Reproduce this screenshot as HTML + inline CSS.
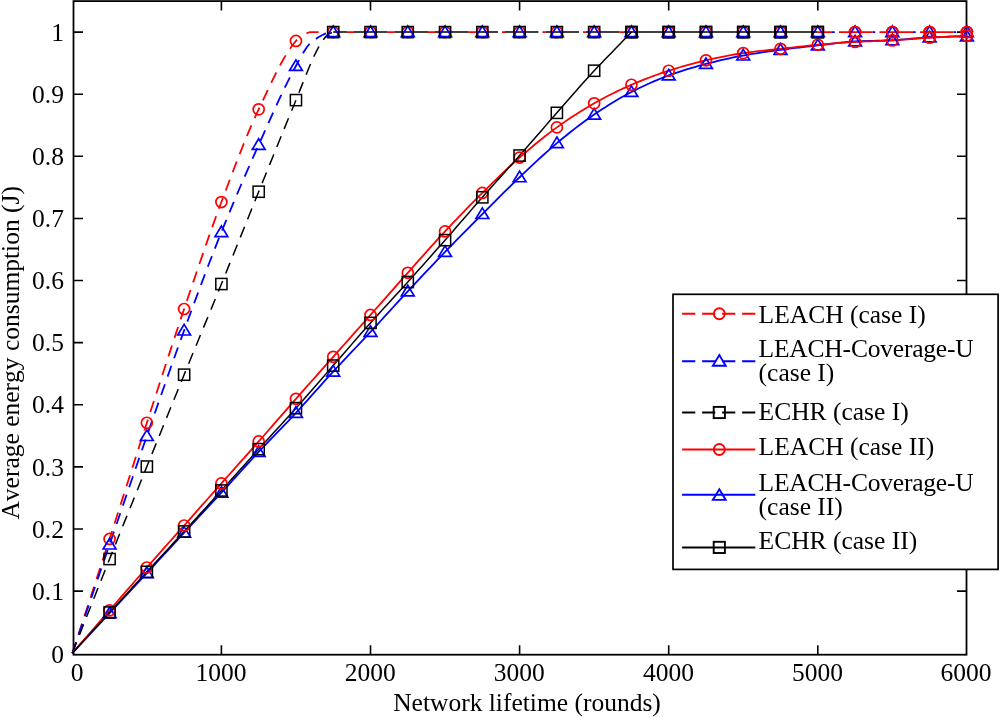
<!DOCTYPE html>
<html lang="en"><head><meta charset="utf-8"><title>Average energy consumption vs network lifetime</title>
<style>html,body{margin:0;padding:0;background:#fff}body{width:1000px;height:718px;overflow:hidden}svg{display:block}</style>
</head><body>
<svg width="1000" height="718" viewBox="0 0 1000 718">
<rect width="1000" height="718" fill="#fff"/>
<g stroke="#000" stroke-width="1.8" fill="none">
<rect x="73.5" y="1.1" width="893.0" height="653.6"/>
<path stroke-width="1.6" d="M221.4 654.7v-9.5M221.4 1.1v9.5M370.5 654.7v-9.5M370.5 1.1v9.5M519.6 654.7v-9.5M519.6 1.1v9.5M668.7 654.7v-9.5M668.7 1.1v9.5M817.8 654.7v-9.5M817.8 1.1v9.5M73.5 591.09h9.5M966.5 591.09h-9.5M73.5 528.98h9.5M966.5 528.98h-9.5M73.5 466.87h9.5M966.5 466.87h-9.5M73.5 404.76h9.5M966.5 404.76h-9.5M73.5 342.65h9.5M966.5 342.65h-9.5M73.5 280.54h9.5M966.5 280.54h-9.5M73.5 218.43h9.5M966.5 218.43h-9.5M73.5 156.32h9.5M966.5 156.32h-9.5M73.5 94.21h9.5M966.5 94.21h-9.5M73.5 32.1h9.5M966.5 32.1h-9.5"/>
</g>
<g>
<polyline points="72.3,653.2 76.03,641.86 79.75,630.49 83.48,619.11 87.21,607.71 90.94,596.29 94.66,584.85 98.39,573.4 102.12,561.92 105.85,550.43 109.58,538.92 113.3,527.37 117.03,515.77 120.76,504.14 124.48,492.48 128.21,480.81 131.94,469.15 135.67,457.5 139.39,445.88 143.12,434.3 146.85,422.77 150.58,411.27 154.31,399.75 158.03,388.24 161.76,376.75 165.49,365.29 169.22,353.88 172.94,342.53 176.67,331.26 180.4,320.07 184.12,308.99 187.85,297.95 191.58,286.93 195.31,275.93 199.04,264.99 202.76,254.14 206.49,243.39 210.22,232.79 213.94,222.34 217.67,212.08 221.4,202.03 225.13,192.1 228.86,182.2 232.58,172.38 236.31,162.67 240.04,153.13 243.76,143.79 247.49,134.7 251.22,125.9 254.95,117.44 258.68,109.36 262.4,101.45 266.13,93.51 269.86,85.64 273.59,77.95 277.31,70.53 281.04,63.47 284.77,56.89 288.5,50.87 292.22,45.51 295.95,40.92 299.68,37.18" fill="none" stroke="#ff0000" stroke-width="1.8" stroke-linejoin="round" stroke-dasharray="11.5 8"/>
<polyline points="306.54,33.29 307.63,32.88 308.73,32.49 309.83,32.2 310.93,32.1 312.03,32.1 313.12,32.1 314.22,32.1 315.32,32.1 316.42,32.1 317.52,32.1 318.61,32.1" fill="none" stroke="#ff0000" stroke-width="1.8"/>
<polyline points="72.3,653.2 76.03,642.32 79.75,631.45 83.48,620.57 87.21,609.7 90.94,598.83 94.66,587.96 98.39,577.1 102.12,566.23 105.85,555.37 109.58,544.51 113.3,533.64 117.03,522.75 120.76,511.85 124.48,500.95 128.21,490.05 131.94,479.18 135.67,468.33 139.39,457.51 143.12,446.73 146.85,436 150.58,425.3 154.31,414.59 158.03,403.89 161.76,393.22 165.49,382.59 169.22,372.01 172.94,361.5 176.67,351.06 180.4,340.72 184.12,330.48 187.85,320.31 191.58,310.17 195.31,300.08 199.04,290.06 202.76,280.12 206.49,270.27 210.22,260.53 213.94,250.91 217.67,241.42 221.4,232.09 225.13,222.9 228.86,213.83 232.58,204.87 236.31,196.01 240.04,187.26 243.76,178.6 247.49,170.03 251.22,161.55 254.95,153.15 258.68,144.83 262.4,136.51 266.13,128.17 269.86,119.84 273.59,111.58 277.31,103.43 281.04,95.43 284.77,87.64 288.5,80.1 292.22,72.85 295.95,65.95 299.68,59.09 303.41,52.42 307.13,46.71 309.52,43.9 310.86,42.64 314.59,39.8 316.82,38.31 318.31,37.34 322.04,35.21 325.77,33.41 328.01,32.72 329.5,32.46 333.23,32.1" fill="none" stroke="#0000ff" stroke-width="1.8" stroke-linejoin="round" stroke-dasharray="11.5 8"/>
<polyline points="72.3,653.2 76.03,643.71 79.75,634.23 83.48,624.78 87.21,615.33 90.94,605.91 94.66,596.5 98.39,587.11 102.12,577.74 105.85,568.38 109.58,559.04 113.3,549.72 117.03,540.43 120.76,531.15 124.48,521.9 128.21,512.66 131.94,503.43 135.67,494.21 139.39,484.99 143.12,475.77 146.85,466.56 150.58,457.34 154.31,448.13 158.03,438.92 161.76,429.71 165.49,420.52 169.22,411.33 172.94,402.15 176.67,392.98 180.4,383.83 184.12,374.7 187.85,365.59 191.58,356.51 195.31,347.46 199.04,338.42 202.76,329.39 206.49,320.35 210.22,311.3 213.94,302.24 217.67,293.15 221.4,284.02 225.13,274.85 228.86,265.65 232.58,256.43 236.31,247.18 240.04,237.93 243.76,228.67 247.49,219.41 251.22,210.16 254.95,200.93 258.68,191.72 262.4,182.52 266.13,173.32 269.86,164.11 273.59,154.91 277.31,145.71 281.04,136.54 284.77,127.38 288.5,118.26 292.22,109.16 295.95,100.11 299.68,90.88 303.41,81.47 307.13,72.16 310.86,63.25 314.59,55.03 315.78,52.6 318.31,47.67 322.04,41.42 325.77,36.43 327.11,35.21 329.5,33.51 333.23,32.1" fill="none" stroke="#000000" stroke-width="1.5" stroke-linejoin="round" stroke-dasharray="11.5 8"/>
<path d="M832 32.1H834.7M872.5 32.1H875.2M913 32.1H915.7M953.5 32.1H956.2" fill="none" stroke="#0000ff" stroke-width="1.8"/>
<path d="M347 32.1H354M387.5 32.1H394.5M428 32.1H435M468.5 32.1H475.5M502 32.1H505M542.4 32.1H545.4M583 32.1H586M619.5 32.1H624M817.8 32.1H832M839 32.1H872.5M879.5 32.1H913M920 32.1H953.5M960.5 32.1H966.9" fill="none" stroke="#ff0000" stroke-width="1.8"/>
<path d="M333.23 32.1H347M354 32.1H387.5M394.5 32.1H428M435 32.1H468.5M475.5 32.1H498M505 32.1H538.4M545.4 32.1H579M586 32.1H619.5M624 32.1H631.42" fill="none" stroke="#000000" stroke-width="1.5"/>
<circle cx="109.58" cy="538.92" r="5.5" fill="none" stroke="#ff0000" stroke-width="1.7"/><circle cx="146.85" cy="422.77" r="5.5" fill="none" stroke="#ff0000" stroke-width="1.7"/><circle cx="184.12" cy="308.99" r="5.5" fill="none" stroke="#ff0000" stroke-width="1.7"/><circle cx="221.4" cy="202.03" r="5.5" fill="none" stroke="#ff0000" stroke-width="1.7"/><circle cx="258.68" cy="109.36" r="5.5" fill="none" stroke="#ff0000" stroke-width="1.7"/><circle cx="295.95" cy="40.92" r="5.5" fill="none" stroke="#ff0000" stroke-width="1.7"/><circle cx="333.23" cy="32.1" r="5.5" fill="none" stroke="#ff0000" stroke-width="1.7"/><circle cx="370.5" cy="32.1" r="5.5" fill="none" stroke="#ff0000" stroke-width="1.7"/><circle cx="407.78" cy="32.1" r="5.5" fill="none" stroke="#ff0000" stroke-width="1.7"/><circle cx="445.05" cy="32.1" r="5.5" fill="none" stroke="#ff0000" stroke-width="1.7"/><circle cx="482.33" cy="32.1" r="5.5" fill="none" stroke="#ff0000" stroke-width="1.7"/><circle cx="519.6" cy="32.1" r="5.5" fill="none" stroke="#ff0000" stroke-width="1.7"/><circle cx="556.88" cy="32.1" r="5.5" fill="none" stroke="#ff0000" stroke-width="1.7"/><circle cx="594.15" cy="32.1" r="5.5" fill="none" stroke="#ff0000" stroke-width="1.7"/><circle cx="631.42" cy="32.1" r="5.5" fill="none" stroke="#ff0000" stroke-width="1.7"/><circle cx="668.7" cy="32.1" r="5.5" fill="none" stroke="#ff0000" stroke-width="1.7"/><circle cx="705.98" cy="32.1" r="5.5" fill="none" stroke="#ff0000" stroke-width="1.7"/><circle cx="743.25" cy="32.1" r="5.5" fill="none" stroke="#ff0000" stroke-width="1.7"/><circle cx="780.52" cy="32.1" r="5.5" fill="none" stroke="#ff0000" stroke-width="1.7"/><circle cx="817.8" cy="32.1" r="5.5" fill="none" stroke="#ff0000" stroke-width="1.7"/><circle cx="855.08" cy="32.1" r="5.5" fill="none" stroke="#ff0000" stroke-width="1.7"/><circle cx="892.35" cy="32.1" r="5.5" fill="none" stroke="#ff0000" stroke-width="1.7"/><circle cx="929.62" cy="32.1" r="5.5" fill="none" stroke="#ff0000" stroke-width="1.7"/><circle cx="966.9" cy="32.1" r="5.5" fill="none" stroke="#ff0000" stroke-width="1.7"/>
<path d="M109.58 538.41L115.98 549.01L103.17 549.01Z" fill="none" stroke="#0000ff" stroke-width="1.7"/><path d="M146.85 429.9L153.25 440.5L140.45 440.5Z" fill="none" stroke="#0000ff" stroke-width="1.7"/><path d="M184.12 324.38L190.53 334.98L177.72 334.98Z" fill="none" stroke="#0000ff" stroke-width="1.7"/><path d="M221.4 225.99L227.8 236.59L215 236.59Z" fill="none" stroke="#0000ff" stroke-width="1.7"/><path d="M258.68 138.73L265.07 149.33L252.28 149.33Z" fill="none" stroke="#0000ff" stroke-width="1.7"/><path d="M295.95 59.85L302.35 70.45L289.55 70.45Z" fill="none" stroke="#0000ff" stroke-width="1.7"/><path d="M333.23 26L339.62 36.6L326.83 36.6Z" fill="none" stroke="#0000ff" stroke-width="1.7"/><path d="M370.5 26L376.9 36.6L364.1 36.6Z" fill="none" stroke="#0000ff" stroke-width="1.7"/><path d="M407.78 26L414.18 36.6L401.38 36.6Z" fill="none" stroke="#0000ff" stroke-width="1.7"/><path d="M445.05 26L451.45 36.6L438.65 36.6Z" fill="none" stroke="#0000ff" stroke-width="1.7"/><path d="M482.33 26L488.73 36.6L475.93 36.6Z" fill="none" stroke="#0000ff" stroke-width="1.7"/><path d="M519.6 26L526 36.6L513.2 36.6Z" fill="none" stroke="#0000ff" stroke-width="1.7"/><path d="M556.88 26L563.27 36.6L550.48 36.6Z" fill="none" stroke="#0000ff" stroke-width="1.7"/><path d="M594.15 26L600.55 36.6L587.75 36.6Z" fill="none" stroke="#0000ff" stroke-width="1.7"/><path d="M631.42 26L637.82 36.6L625.02 36.6Z" fill="none" stroke="#0000ff" stroke-width="1.7"/><path d="M668.7 26L675.1 36.6L662.3 36.6Z" fill="none" stroke="#0000ff" stroke-width="1.7"/><path d="M705.98 26L712.38 36.6L699.58 36.6Z" fill="none" stroke="#0000ff" stroke-width="1.7"/><path d="M743.25 26L749.65 36.6L736.85 36.6Z" fill="none" stroke="#0000ff" stroke-width="1.7"/><path d="M780.52 26L786.92 36.6L774.12 36.6Z" fill="none" stroke="#0000ff" stroke-width="1.7"/><path d="M817.8 26L824.2 36.6L811.4 36.6Z" fill="none" stroke="#0000ff" stroke-width="1.7"/><path d="M855.08 26L861.48 36.6L848.68 36.6Z" fill="none" stroke="#0000ff" stroke-width="1.7"/><path d="M892.35 26L898.75 36.6L885.95 36.6Z" fill="none" stroke="#0000ff" stroke-width="1.7"/><path d="M929.62 26L936.02 36.6L923.23 36.6Z" fill="none" stroke="#0000ff" stroke-width="1.7"/><path d="M966.9 26L973.3 36.6L960.5 36.6Z" fill="none" stroke="#0000ff" stroke-width="1.7"/>
<rect x="103.98" y="553.44" width="11.2" height="11.2" fill="none" stroke="#000000" stroke-width="1.5"/><rect x="141.25" y="460.96" width="11.2" height="11.2" fill="none" stroke="#000000" stroke-width="1.5"/><rect x="178.53" y="369.1" width="11.2" height="11.2" fill="none" stroke="#000000" stroke-width="1.5"/><rect x="215.8" y="278.42" width="11.2" height="11.2" fill="none" stroke="#000000" stroke-width="1.5"/><rect x="253.08" y="186.12" width="11.2" height="11.2" fill="none" stroke="#000000" stroke-width="1.5"/><rect x="290.35" y="94.51" width="11.2" height="11.2" fill="none" stroke="#000000" stroke-width="1.5"/><rect x="327.62" y="26.5" width="11.2" height="11.2" fill="none" stroke="#000000" stroke-width="1.5"/><rect x="364.9" y="26.5" width="11.2" height="11.2" fill="none" stroke="#000000" stroke-width="1.5"/><rect x="402.18" y="26.5" width="11.2" height="11.2" fill="none" stroke="#000000" stroke-width="1.5"/><rect x="439.45" y="26.5" width="11.2" height="11.2" fill="none" stroke="#000000" stroke-width="1.5"/><rect x="476.73" y="26.5" width="11.2" height="11.2" fill="none" stroke="#000000" stroke-width="1.5"/><rect x="514" y="26.5" width="11.2" height="11.2" fill="none" stroke="#000000" stroke-width="1.5"/><rect x="551.27" y="26.5" width="11.2" height="11.2" fill="none" stroke="#000000" stroke-width="1.5"/><rect x="588.55" y="26.5" width="11.2" height="11.2" fill="none" stroke="#000000" stroke-width="1.5"/><rect x="625.82" y="26.5" width="11.2" height="11.2" fill="none" stroke="#000000" stroke-width="1.5"/><rect x="663.1" y="26.5" width="11.2" height="11.2" fill="none" stroke="#000000" stroke-width="1.5"/><rect x="700.38" y="26.5" width="11.2" height="11.2" fill="none" stroke="#000000" stroke-width="1.5"/><rect x="737.65" y="26.5" width="11.2" height="11.2" fill="none" stroke="#000000" stroke-width="1.5"/><rect x="774.92" y="26.5" width="11.2" height="11.2" fill="none" stroke="#000000" stroke-width="1.5"/><rect x="812.2" y="26.5" width="11.2" height="11.2" fill="none" stroke="#000000" stroke-width="1.5"/>
<polyline points="72.3,653.2 76.03,649.19 79.75,645.19 83.48,641.18 87.21,637.18 90.94,633.17 94.66,629.16 98.39,625.16 102.12,621.15 105.85,617.15 109.58,613.14 113.3,609.13 117.03,605.13 120.76,601.13 124.48,597.13 128.21,593.13 131.94,589.12 135.67,585.12 139.39,581.11 143.12,577.1 146.85,573.08 150.58,569.05 154.31,565.02 158.03,560.98 161.76,556.94 165.49,552.89 169.22,548.85 172.94,544.8 176.67,540.77 180.4,536.73 184.12,532.71 187.85,528.69 191.58,524.68 195.31,520.68 199.04,516.69 202.76,512.7 206.49,508.7 210.22,504.7 213.94,500.69 217.67,496.68 221.4,492.65 225.13,488.6 228.86,484.52 232.58,480.44 236.31,476.34 240.04,472.24 243.76,468.15 247.49,464.07 251.22,460.01 254.95,455.97 258.68,451.96 262.4,448 266.13,444.07 269.86,440.18 273.59,436.3 277.31,432.44 281.04,428.57 284.77,424.68 288.5,420.77 292.22,416.83 295.95,412.83 299.68,408.79 303.41,404.69 307.13,400.55 310.86,396.39 314.59,392.22 318.31,388.04 322.04,383.87 325.77,379.72 329.5,375.6 333.23,371.53 336.95,367.51 340.68,363.52 344.41,359.55 348.14,355.61 351.86,351.68 355.59,347.75 359.32,343.81 363.05,339.87 366.77,335.9 370.5,331.9 374.23,327.88 377.96,323.82 381.68,319.75 385.41,315.67 389.14,311.58 392.87,307.49 396.59,303.41 400.32,299.34 404.05,295.3 407.78,291.29 411.5,287.3 415.23,283.32 418.96,279.35 422.69,275.4 426.41,271.46 430.14,267.53 433.87,263.62 437.6,259.72 441.32,255.84 445.05,251.97 448.78,248.11 452.51,244.27 456.23,240.45 459.96,236.64 463.69,232.84 467.42,229.05 471.14,225.27 474.87,221.51 478.6,217.76 482.33,214.02 486.05,210.28 489.78,206.55 493.51,202.82 497.24,199.1 500.96,195.39 504.69,191.7 508.42,188.04 512.14,184.41 515.87,180.81 519.6,177.25 523.33,173.71 527.06,170.17 530.78,166.64 534.51,163.14 538.24,159.67 541.97,156.24 545.69,152.86 549.42,149.55 553.15,146.31 556.88,143.15 560.6,140.06 564.33,137.01 568.06,134 571.78,131.04 575.51,128.14 579.24,125.29 582.97,122.51 586.69,119.79 590.42,117.15 594.15,114.58 597.88,112.08 601.61,109.61 605.33,107.19 609.06,104.82 612.79,102.51 616.51,100.26 620.24,98.07 623.97,95.96 627.7,93.93 631.42,91.97 635.15,90.09 638.88,88.25 642.61,86.45 646.34,84.71 650.06,83.02 653.79,81.39 657.52,79.81 661.25,78.29 664.97,76.84 668.7,75.45 672.43,74.12 676.15,72.83 679.88,71.59 683.61,70.39 687.34,69.23 691.06,68.11 694.79,67.02 698.52,65.97 702.25,64.95 705.98,63.96 709.7,63 713.43,62.05 717.16,61.13 720.88,60.24 724.61,59.37 728.34,58.53 732.07,57.72 735.79,56.95 739.52,56.21 743.25,55.52 746.98,54.85 750.71,54.22 754.43,53.61 758.16,53.03 761.89,52.47 765.62,51.92 769.34,51.39 773.07,50.87 776.8,50.37 780.52,49.86 784.25,49.37 787.98,48.89 791.71,48.43 795.44,47.97 799.16,47.53 802.89,47.09 806.62,46.66 810.35,46.24 814.07,45.81 817.8,45.39 821.53,44.96 825.25,44.5 828.98,44.03 832.71,43.56 836.44,43.11 840.16,42.67 843.89,42.28 847.62,41.93 851.35,41.64 855.08,41.42 858.8,41.25 862.53,41.11 866.26,41 869.99,40.9 873.71,40.81 877.44,40.72 881.17,40.62 884.89,40.51 888.62,40.39 892.35,40.24 896.08,40.03 899.81,39.77 903.53,39.46 907.26,39.13 910.99,38.77 914.72,38.43 918.44,38.1 922.17,37.8 925.9,37.56 929.62,37.38 933.35,37.24 937.08,37.1 940.81,36.97 944.53,36.85 948.26,36.74 951.99,36.64 955.72,36.56 959.45,36.5 963.17,36.46 966.9,36.45" fill="none" stroke="#0000ff" stroke-width="1.8" stroke-linejoin="round"/>
<polyline points="72.3,653.2 76.03,648.91 79.75,644.63 83.48,640.34 87.21,636.06 90.94,631.77 94.66,627.49 98.39,623.2 102.12,618.92 105.85,614.63 109.58,610.34 113.3,606.05 117.03,601.76 120.76,597.46 124.48,593.16 128.21,588.86 131.94,584.57 135.67,580.28 139.39,576 143.12,571.74 146.85,567.49 150.58,563.26 154.31,559.04 158.03,554.83 161.76,550.64 165.49,546.45 169.22,542.26 172.94,538.08 176.67,533.89 180.4,529.7 184.12,525.5 187.85,521.29 191.58,517.08 195.31,512.87 199.04,508.66 202.76,504.44 206.49,500.23 210.22,496.01 213.94,491.8 217.67,487.6 221.4,483.39 225.13,479.19 228.86,475.01 232.58,470.82 236.31,466.64 240.04,462.46 243.76,458.28 247.49,454.09 251.22,449.89 254.95,445.69 258.68,441.47 262.4,437.23 266.13,432.98 269.86,428.72 273.59,424.45 277.31,420.17 281.04,415.9 284.77,411.62 288.5,407.36 292.22,403.1 295.95,398.86 299.68,394.63 303.41,390.41 307.13,386.2 310.86,381.99 314.59,377.79 318.31,373.59 322.04,369.39 325.77,365.2 329.5,361.01 333.23,356.81 336.95,352.62 340.68,348.43 344.41,344.25 348.14,340.07 351.86,335.89 355.59,331.71 359.32,327.52 363.05,323.34 366.77,319.15 370.5,314.95 374.23,310.74 377.96,306.52 381.68,302.29 385.41,298.06 389.14,293.83 392.87,289.6 396.59,285.38 400.32,281.16 404.05,276.96 407.78,272.78 411.5,268.59 415.23,264.4 418.96,260.21 422.69,256.03 426.41,251.85 430.14,247.7 433.87,243.57 437.6,239.48 441.32,235.42 445.05,231.41 448.78,227.44 452.51,223.49 456.23,219.57 459.96,215.68 463.69,211.81 467.42,207.98 471.14,204.18 474.87,200.41 478.6,196.67 482.33,192.96 486.05,189.28 489.78,185.61 493.51,181.95 497.24,178.32 500.96,174.73 504.69,171.18 508.42,167.68 512.14,164.24 515.87,160.86 519.6,157.56 523.33,154.32 527.06,151.11 530.78,147.94 534.51,144.81 538.24,141.74 541.97,138.73 545.69,135.78 549.42,132.9 553.15,130.1 556.88,127.38 560.6,124.72 564.33,122.12 568.06,119.57 571.78,117.07 575.51,114.63 579.24,112.25 582.97,109.93 586.69,107.67 590.42,105.47 594.15,103.34 597.88,101.27 601.61,99.24 605.33,97.26 609.06,95.32 612.79,93.43 616.51,91.6 620.24,89.81 623.97,88.08 627.7,86.4 631.42,84.77 635.15,83.19 638.88,81.65 642.61,80.14 646.34,78.68 650.06,77.25 653.79,75.86 657.52,74.52 661.25,73.21 664.97,71.95 668.7,70.73 672.43,69.55 676.15,68.39 679.88,67.26 683.61,66.15 687.34,65.08 691.06,64.05 694.79,63.05 698.52,62.09 702.25,61.17 705.98,60.3 709.7,59.45 713.43,58.63 717.16,57.83 720.88,57.05 724.61,56.3 728.34,55.58 732.07,54.9 735.79,54.26 739.52,53.65 743.25,53.09 746.98,52.58 750.71,52.09 754.43,51.64 758.16,51.21 761.89,50.8 765.62,50.4 769.34,50.01 773.07,49.61 776.8,49.22 780.52,48.81 784.25,48.39 787.98,47.96 791.71,47.53 795.44,47.1 799.16,46.68 802.89,46.27 806.62,45.87 810.35,45.48 814.07,45.11 817.8,44.77 821.53,44.44 825.25,44.12 828.98,43.81 832.71,43.5 836.44,43.21 840.16,42.93 843.89,42.66 847.62,42.42 851.35,42.19 855.08,41.98 858.8,41.79 862.53,41.62 866.26,41.47 869.99,41.33 873.71,41.2 877.44,41.06 881.17,40.92 884.89,40.77 888.62,40.61 892.35,40.42 896.08,40.21 899.81,39.96 903.53,39.69 907.26,39.4 910.99,39.1 914.72,38.79 918.44,38.49 922.17,38.21 925.9,37.94 929.62,37.69 933.35,37.46 937.08,37.24 940.81,37.02 944.53,36.81 948.26,36.61 951.99,36.41 955.72,36.22 959.45,36.04 963.17,35.87 966.9,35.7" fill="none" stroke="#ff0000" stroke-width="1.8" stroke-linejoin="round"/>
<polyline points="72.3,653.2 76.03,649.13 79.75,645.06 83.48,641 87.21,636.93 90.94,632.86 94.66,628.79 98.39,624.72 102.12,620.65 105.85,616.59 109.58,612.52 113.3,608.45 117.03,604.38 120.76,600.3 124.48,596.23 128.21,592.16 131.94,588.09 135.67,584.02 139.39,579.95 143.12,575.89 146.85,571.84 150.58,567.79 154.31,563.75 158.03,559.72 161.76,555.69 165.49,551.67 169.22,547.64 172.94,543.61 176.67,539.57 180.4,535.53 184.12,531.46 187.85,527.39 191.58,523.31 195.31,519.22 199.04,515.13 202.76,511.03 206.49,506.92 210.22,502.81 213.94,498.7 217.67,494.59 221.4,490.47 225.13,486.35 228.86,482.23 232.58,478.09 236.31,473.96 240.04,469.82 243.76,465.68 247.49,461.55 251.22,457.41 254.95,453.29 258.68,449.17 262.4,445.06 266.13,440.98 269.86,436.9 273.59,432.83 277.31,428.75 281.04,424.67 284.77,420.58 288.5,416.47 292.22,412.34 295.95,408.18 299.68,403.98 303.41,399.76 307.13,395.52 310.86,391.25 314.59,386.98 318.31,382.7 322.04,378.41 325.77,374.12 329.5,369.84 333.23,365.57 336.95,361.3 340.68,357.01 344.41,352.71 348.14,348.42 351.86,344.12 355.59,339.84 359.32,335.57 363.05,331.32 366.77,327.09 370.5,322.9 374.23,318.75 377.96,314.63 381.68,310.54 385.41,306.47 389.14,302.42 392.87,298.36 396.59,294.31 400.32,290.24 404.05,286.15 407.78,282.03 411.5,277.89 415.23,273.74 418.96,269.58 422.69,265.41 426.41,261.22 430.14,257.03 433.87,252.83 437.6,248.62 441.32,244.4 445.05,240.17 448.78,235.92 452.51,231.64 456.23,227.35 459.96,223.05 463.69,218.74 467.42,214.43 471.14,210.12 474.87,205.83 478.6,201.56 482.33,197.31 486.05,193.09 489.78,188.9 493.51,184.72 497.24,180.56 500.96,176.4 504.69,172.24 508.42,168.08 512.14,163.91 515.87,159.72 519.6,155.51 523.33,151.28 527.06,147.03 530.78,142.76 534.51,138.48 538.24,134.2 541.97,129.91 545.69,125.63 549.42,121.35 553.15,117.09 556.88,112.84 560.6,108.59 564.33,104.32 568.06,100.04 571.78,95.77 575.51,91.5 579.24,87.26 582.97,83.05 586.69,78.89 590.42,74.78 594.15,70.73 597.88,66.77 601.61,62.9 605.33,59.07 609.06,55.26 612.79,51.42 616.51,47.56 620.24,43.7 623.97,39.84 627.7,35.98 629.93,33.65 631.42,32.1 817.8,32.1" fill="none" stroke="#000000" stroke-width="1.5" stroke-linejoin="round"/>
<path d="M109.58 607.04L115.98 617.64L103.17 617.64Z" fill="none" stroke="#0000ff" stroke-width="1.7"/><path d="M146.85 566.98L153.25 577.58L140.45 577.58Z" fill="none" stroke="#0000ff" stroke-width="1.7"/><path d="M184.12 526.61L190.53 537.21L177.72 537.21Z" fill="none" stroke="#0000ff" stroke-width="1.7"/><path d="M221.4 486.55L227.8 497.15L215 497.15Z" fill="none" stroke="#0000ff" stroke-width="1.7"/><path d="M258.68 445.86L265.07 456.46L252.28 456.46Z" fill="none" stroke="#0000ff" stroke-width="1.7"/><path d="M295.95 406.73L302.35 417.33L289.55 417.33Z" fill="none" stroke="#0000ff" stroke-width="1.7"/><path d="M333.23 365.43L339.62 376.03L326.83 376.03Z" fill="none" stroke="#0000ff" stroke-width="1.7"/><path d="M370.5 325.8L376.9 336.4L364.1 336.4Z" fill="none" stroke="#0000ff" stroke-width="1.7"/><path d="M407.78 285.19L414.18 295.79L401.38 295.79Z" fill="none" stroke="#0000ff" stroke-width="1.7"/><path d="M445.05 245.87L451.45 256.47L438.65 256.47Z" fill="none" stroke="#0000ff" stroke-width="1.7"/><path d="M482.33 207.92L488.73 218.52L475.93 218.52Z" fill="none" stroke="#0000ff" stroke-width="1.7"/><path d="M519.6 171.15L526 181.75L513.2 181.75Z" fill="none" stroke="#0000ff" stroke-width="1.7"/><path d="M556.88 137.05L563.27 147.65L550.48 147.65Z" fill="none" stroke="#0000ff" stroke-width="1.7"/><path d="M594.15 108.48L600.55 119.08L587.75 119.08Z" fill="none" stroke="#0000ff" stroke-width="1.7"/><path d="M631.42 85.87L637.82 96.47L625.02 96.47Z" fill="none" stroke="#0000ff" stroke-width="1.7"/><path d="M668.7 69.35L675.1 79.95L662.3 79.95Z" fill="none" stroke="#0000ff" stroke-width="1.7"/><path d="M705.98 57.86L712.38 68.46L699.58 68.46Z" fill="none" stroke="#0000ff" stroke-width="1.7"/><path d="M743.25 49.42L749.65 60.02L736.85 60.02Z" fill="none" stroke="#0000ff" stroke-width="1.7"/><path d="M780.52 43.76L786.92 54.36L774.12 54.36Z" fill="none" stroke="#0000ff" stroke-width="1.7"/><path d="M817.8 39.29L824.2 49.89L811.4 49.89Z" fill="none" stroke="#0000ff" stroke-width="1.7"/><path d="M855.08 35.32L861.48 45.92L848.68 45.92Z" fill="none" stroke="#0000ff" stroke-width="1.7"/><path d="M892.35 34.14L898.75 44.74L885.95 44.74Z" fill="none" stroke="#0000ff" stroke-width="1.7"/><path d="M929.62 31.28L936.02 41.88L923.23 41.88Z" fill="none" stroke="#0000ff" stroke-width="1.7"/><path d="M966.9 30.35L973.3 40.95L960.5 40.95Z" fill="none" stroke="#0000ff" stroke-width="1.7"/>
<circle cx="109.58" cy="610.34" r="5.5" fill="none" stroke="#ff0000" stroke-width="1.7"/><circle cx="146.85" cy="567.49" r="5.5" fill="none" stroke="#ff0000" stroke-width="1.7"/><circle cx="184.12" cy="525.5" r="5.5" fill="none" stroke="#ff0000" stroke-width="1.7"/><circle cx="221.4" cy="483.39" r="5.5" fill="none" stroke="#ff0000" stroke-width="1.7"/><circle cx="258.68" cy="441.47" r="5.5" fill="none" stroke="#ff0000" stroke-width="1.7"/><circle cx="295.95" cy="398.86" r="5.5" fill="none" stroke="#ff0000" stroke-width="1.7"/><circle cx="333.23" cy="356.81" r="5.5" fill="none" stroke="#ff0000" stroke-width="1.7"/><circle cx="370.5" cy="314.95" r="5.5" fill="none" stroke="#ff0000" stroke-width="1.7"/><circle cx="407.78" cy="272.78" r="5.5" fill="none" stroke="#ff0000" stroke-width="1.7"/><circle cx="445.05" cy="231.41" r="5.5" fill="none" stroke="#ff0000" stroke-width="1.7"/><circle cx="482.33" cy="192.96" r="5.5" fill="none" stroke="#ff0000" stroke-width="1.7"/><circle cx="519.6" cy="157.56" r="5.5" fill="none" stroke="#ff0000" stroke-width="1.7"/><circle cx="556.88" cy="127.38" r="5.5" fill="none" stroke="#ff0000" stroke-width="1.7"/><circle cx="594.15" cy="103.34" r="5.5" fill="none" stroke="#ff0000" stroke-width="1.7"/><circle cx="631.42" cy="84.77" r="5.5" fill="none" stroke="#ff0000" stroke-width="1.7"/><circle cx="668.7" cy="70.73" r="5.5" fill="none" stroke="#ff0000" stroke-width="1.7"/><circle cx="705.98" cy="60.3" r="5.5" fill="none" stroke="#ff0000" stroke-width="1.7"/><circle cx="743.25" cy="53.09" r="5.5" fill="none" stroke="#ff0000" stroke-width="1.7"/><circle cx="780.52" cy="48.81" r="5.5" fill="none" stroke="#ff0000" stroke-width="1.7"/><circle cx="817.8" cy="44.77" r="5.5" fill="none" stroke="#ff0000" stroke-width="1.7"/><circle cx="855.08" cy="41.98" r="5.5" fill="none" stroke="#ff0000" stroke-width="1.7"/><circle cx="892.35" cy="40.42" r="5.5" fill="none" stroke="#ff0000" stroke-width="1.7"/><circle cx="929.62" cy="37.69" r="5.5" fill="none" stroke="#ff0000" stroke-width="1.7"/><circle cx="966.9" cy="35.7" r="5.5" fill="none" stroke="#ff0000" stroke-width="1.7"/>
<rect x="103.98" y="606.92" width="11.2" height="11.2" fill="none" stroke="#000000" stroke-width="1.5"/><rect x="141.25" y="566.24" width="11.2" height="11.2" fill="none" stroke="#000000" stroke-width="1.5"/><rect x="178.53" y="525.86" width="11.2" height="11.2" fill="none" stroke="#000000" stroke-width="1.5"/><rect x="215.8" y="484.87" width="11.2" height="11.2" fill="none" stroke="#000000" stroke-width="1.5"/><rect x="253.08" y="443.57" width="11.2" height="11.2" fill="none" stroke="#000000" stroke-width="1.5"/><rect x="290.35" y="402.58" width="11.2" height="11.2" fill="none" stroke="#000000" stroke-width="1.5"/><rect x="327.62" y="359.97" width="11.2" height="11.2" fill="none" stroke="#000000" stroke-width="1.5"/><rect x="364.9" y="317.3" width="11.2" height="11.2" fill="none" stroke="#000000" stroke-width="1.5"/><rect x="402.18" y="276.43" width="11.2" height="11.2" fill="none" stroke="#000000" stroke-width="1.5"/><rect x="439.45" y="234.57" width="11.2" height="11.2" fill="none" stroke="#000000" stroke-width="1.5"/><rect x="476.73" y="191.71" width="11.2" height="11.2" fill="none" stroke="#000000" stroke-width="1.5"/><rect x="514" y="149.91" width="11.2" height="11.2" fill="none" stroke="#000000" stroke-width="1.5"/><rect x="551.27" y="107.24" width="11.2" height="11.2" fill="none" stroke="#000000" stroke-width="1.5"/><rect x="588.55" y="65.13" width="11.2" height="11.2" fill="none" stroke="#000000" stroke-width="1.5"/><rect x="625.82" y="26.5" width="11.2" height="11.2" fill="none" stroke="#000000" stroke-width="1.5"/><rect x="663.1" y="26.5" width="11.2" height="11.2" fill="none" stroke="#000000" stroke-width="1.5"/><rect x="700.38" y="26.5" width="11.2" height="11.2" fill="none" stroke="#000000" stroke-width="1.5"/><rect x="737.65" y="26.5" width="11.2" height="11.2" fill="none" stroke="#000000" stroke-width="1.5"/><rect x="774.92" y="26.5" width="11.2" height="11.2" fill="none" stroke="#000000" stroke-width="1.5"/><rect x="812.2" y="26.5" width="11.2" height="11.2" fill="none" stroke="#000000" stroke-width="1.5"/>
<circle cx="855.08" cy="32.1" r="5.5" fill="none" stroke="#ff0000" stroke-width="1.7"/><circle cx="892.35" cy="32.1" r="5.5" fill="none" stroke="#ff0000" stroke-width="1.7"/><circle cx="929.62" cy="32.1" r="5.5" fill="none" stroke="#ff0000" stroke-width="1.7"/><circle cx="966.9" cy="32.1" r="5.5" fill="none" stroke="#ff0000" stroke-width="1.7"/>
</g>
<g font-family="'Liberation Serif', serif" font-size="25.5" fill="#000" style="font-kerning:none">
<text x="77" y="681.4" text-anchor="middle">0</text>
<text x="221.1" y="681.4" text-anchor="middle">1000</text>
<text x="370.2" y="681.4" text-anchor="middle">2000</text>
<text x="519.3" y="681.4" text-anchor="middle">3000</text>
<text x="668.4" y="681.4" text-anchor="middle">4000</text>
<text x="817.5" y="681.4" text-anchor="middle">5000</text>
<text x="966" y="681.4" text-anchor="middle">6000</text>
<text x="63.9" y="663.3" text-anchor="end">0</text>
<text x="63.9" y="599.79" text-anchor="end">0.1</text>
<text x="63.9" y="537.68" text-anchor="end">0.2</text>
<text x="63.9" y="475.57" text-anchor="end">0.3</text>
<text x="63.9" y="413.46" text-anchor="end">0.4</text>
<text x="63.9" y="351.35" text-anchor="end">0.5</text>
<text x="63.9" y="289.24" text-anchor="end">0.6</text>
<text x="63.9" y="227.13" text-anchor="end">0.7</text>
<text x="63.9" y="165.02" text-anchor="end">0.8</text>
<text x="63.9" y="102.91" text-anchor="end">0.9</text>
<text x="63.9" y="40.8" text-anchor="end">1</text>
<text x="527" y="711.2" text-anchor="middle">Network lifetime (rounds)</text>
<text transform="translate(18.9 352.8) rotate(-90)" text-anchor="middle">Average energy consumption (J)</text>
</g>
<rect x="673" y="294.3" width="325.1" height="275.1" fill="#fff" stroke="#000" stroke-width="1.7"/>
<path d="M682.1 313.7H755.3" stroke="#ff0000" stroke-width="2.0" fill="none" stroke-dasharray="13.2 6.8"/>
<circle cx="719.3" cy="313.7" r="5.5" fill="none" stroke="#ff0000" stroke-width="1.9"/>
<path d="M682.1 361.2H755.3" stroke="#0000ff" stroke-width="2.0" fill="none" stroke-dasharray="13.2 6.8"/>
<path d="M719.3 355.1L725.7 365.7L712.9 365.7Z" fill="none" stroke="#0000ff" stroke-width="1.9"/>
<path d="M682.1 412.5H755.3" stroke="#000000" stroke-width="2.0" fill="none" stroke-dasharray="13.2 6.8"/>
<rect x="713.7" y="406.9" width="11.2" height="11.2" fill="none" stroke="#000000" stroke-width="1.9"/>
<path d="M682.1 449.5H755.3" stroke="#ff0000" stroke-width="2.0" fill="none"/>
<circle cx="719.3" cy="449.5" r="5.5" fill="none" stroke="#ff0000" stroke-width="1.9"/>
<path d="M682.1 494.8H755.3" stroke="#0000ff" stroke-width="2.0" fill="none"/>
<path d="M719.3 489.3L725.7 499.9L712.9 499.9Z" fill="none" stroke="#0000ff" stroke-width="1.9"/>
<path d="M682.1 547.4H755.3" stroke="#000000" stroke-width="2.0" fill="none"/>
<rect x="713.7" y="541.8" width="11.2" height="11.2" fill="none" stroke="#000000" stroke-width="1.9"/>
<g font-family="'Liberation Serif', serif" font-size="25.5" fill="#000" style="font-kerning:none">
<text x="758.6" y="322.5">LEACH (case I)</text>
<text x="758.6" y="357" letter-spacing="-0.2">LEACH-Coverage-U</text>
<text x="758.6" y="381.2">(case I)</text>
<text x="758.6" y="419.5">ECHR (case I)</text>
<text x="758.6" y="455">LEACH (case II)</text>
<text x="758.6" y="490.5" letter-spacing="-0.2">LEACH-Coverage-U</text>
<text x="758.6" y="514.5">(case II)</text>
<text x="758.6" y="548.7">ECHR (case II)</text>
</g>
</svg>
</body></html>
